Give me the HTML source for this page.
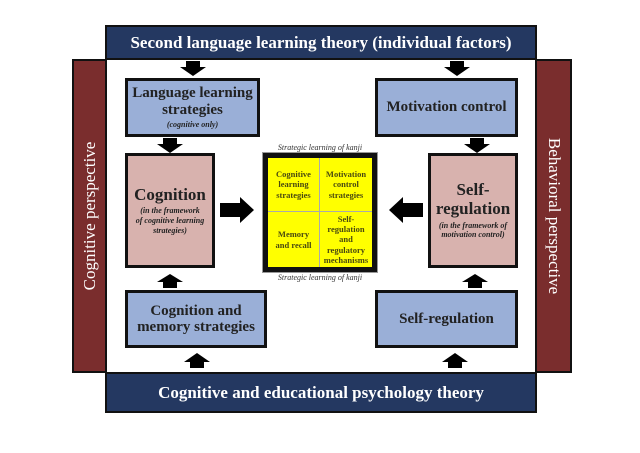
<!DOCTYPE html>
<html><head><style>
body{margin:0;width:640px;height:453px;background:#fff;position:relative;overflow:hidden;font-family:"Liberation Serif",serif}
.a{position:absolute;box-sizing:border-box}
.bar{background:#243861;color:#fff;border:2px solid #111;display:flex;align-items:center;justify-content:center;font-size:17px;font-weight:bold}
.red{background:#7a2d2d;border:2px solid #111;color:#fff}
.rot{position:absolute;white-space:nowrap;font-size:17px;left:50%;top:50%}
.blue{background:#9aafd7;border:3px solid #111;display:flex;flex-direction:column;align-items:center;justify-content:center;text-align:center;font-size:15px;color:#222;line-height:1.1;font-weight:bold}
.pink{background:#d8b2ae;border:3px solid #111;display:flex;flex-direction:column;align-items:center;justify-content:center;text-align:center;font-size:17px;color:#222;line-height:1.1;font-weight:bold}
.sm{font-size:8px;font-style:italic;line-height:1.2;margin-top:2px}
.cell{position:absolute;display:flex;align-items:center;justify-content:center;text-align:center;font-size:8.5px;color:#4a4a10;line-height:1.2;font-weight:bold}
.cap{font-size:8px;font-style:italic;color:#333;text-align:center;width:140px}
</style></head><body>
<div class="a" style="left:105px;top:58px;width:432px;height:316px;border:2px solid #111"></div>
<div class="a red" style="left:72px;top:59px;width:35px;height:314px"><div class="rot" style="transform:translate(-50%,-50%) rotate(-90deg)">Cognitive perspective</div></div>
<div class="a red" style="left:535px;top:59px;width:37px;height:314px"><div class="rot" style="transform:translate(-50%,-50%) rotate(90deg)">Behavioral perspective</div></div>
<div class="a bar" style="left:105px;top:25px;width:432px;height:35px">Second language learning theory (individual factors)</div>
<div class="a bar" style="left:105px;top:372px;width:432px;height:41px">Cognitive and educational psychology theory</div>

<div class="a blue" style="left:125px;top:78px;width:135px;height:59px"><div>Language learning<br>strategies</div><div class="sm">(cognitive only)</div></div>
<div class="a blue" style="left:375px;top:78px;width:143px;height:59px">Motivation control</div>
<div class="a blue" style="left:125px;top:290px;width:142px;height:58px">Cognition and<br>memory strategies</div>
<div class="a blue" style="left:375px;top:290px;width:143px;height:58px">Self-regulation</div>
<div class="a pink" style="left:125px;top:153px;width:90px;height:115px"><div>Cognition</div><div class="sm">(in the framework<br>of cognitive learning<br>strategies)</div></div>
<div class="a pink" style="left:428px;top:153px;width:90px;height:115px"><div>Self-<br>regulation</div><div class="sm">(in the framework of<br>motivation control)</div></div>

<div class="a cap" style="left:250px;top:143px">Strategic learning of kanji</div>
<div class="a cap" style="left:250px;top:273px">Strategic learning of kanji</div>
<div class="a" style="left:263px;top:153px;width:114px;height:119px;border:5px solid #111;outline:1px solid #999;background:#ffff00">
<div class="a" style="left:51px;top:0;width:1px;height:100%;background:#aaa"></div>
<div class="a" style="left:0;top:53px;width:100%;height:1px;background:#aaa"></div>
<div class="cell" style="left:0;top:0;width:51px;height:53px">Cognitive<br>learning<br>strategies</div>
<div class="cell" style="left:52px;top:0;width:52px;height:53px">Motivation<br>control<br>strategies</div>
<div class="cell" style="left:0;top:54px;width:51px;height:55px">Memory<br>and recall</div>
<div class="cell" style="left:52px;top:54px;width:52px;height:55px">Self-<br>regulation<br>and<br>regulatory<br>mechanisms</div>
</div>

<svg class="a" style="left:0;top:0" width="640" height="453">
<g fill="#000">
<polygon points="186,61 200,61 200,67 206,67 193,76 180,67 186,67"/>
<polygon points="450,61 464,61 464,67 470,67 457,76 444,67 450,67"/>
<polygon points="163,138 177,138 177,144 183,144 170,153 157,144 163,144"/>
<polygon points="470,138 484,138 484,144 490,144 477,153 464,144 470,144"/>
<polygon points="163,288 177,288 177,282 183,282 170,274 157,282 163,282"/>
<polygon points="468,288 482,288 482,282 488,282 475,274 462,282 468,282"/>
<polygon points="190,368 204,368 204,362 210,362 197,353 184,362 190,362"/>
<polygon points="448,368 462,368 462,362 468,362 455,353 442,362 448,362"/>
<polygon points="220,203 240,203 240,197 254,210 240,223 240,217 220,217"/>
<polygon points="423,203 403,203 403,197 389,210 403,223 403,217 423,217"/>
</g></svg>
</body></html>
